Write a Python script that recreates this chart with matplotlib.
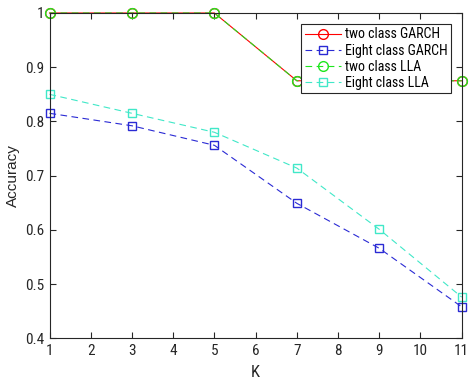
import matplotlib
matplotlib.use("Agg")
import matplotlib.pyplot as plt
from matplotlib.ticker import FuncFormatter

K = [1, 3, 5, 7, 9, 11]
two_garch = [1.0, 1.0, 1.0, 0.875, 0.875, 0.875]
eight_garch = [0.815, 0.792, 0.756, 0.649, 0.566, 0.458]
two_lla = [1.0, 1.0, 1.0, 0.875, 0.875, 0.875]
eight_lla = [0.850, 0.815, 0.780, 0.714, 0.601, 0.476]
labels = ["two class GARCH", "Eight class GARCH", "two class LLA", "Eight class LLA"]

plt.rcParams['font.family'] = ['Roboto Condensed', 'DejaVu Sans']
fig = plt.figure(figsize=(4.74, 3.82), dpi=100)
ax = fig.add_axes([49.5/474, 1-338.3/382, (461.7-49.5)/474, (338.3-13)/382])

ms = 7
kw = dict(lw=0.8, mfc='none', mew=1.0, clip_on=False)
ax.plot(K, two_garch, '-o', color='#ff0000', ms=ms, label=labels[0], **kw)
ax.plot(K, eight_garch, '--s', color='#2a2ad4', ms=ms-1, label=labels[1], dashes=(6, 4), **kw)
ax.plot(K, two_lla, '--o', color='#1ee61e', ms=ms, label=labels[2], dashes=(6, 4), **kw)
ax.plot(K, eight_lla, '--s', color='#40e8c8', ms=ms-1, label=labels[3], dashes=(6, 4), **kw)

ax.set_xlim(1, 11)
ax.set_ylim(0.4, 1.0)
ax.set_xticks(range(1, 12))
ax.set_yticks([0.4, 0.5, 0.6, 0.7, 0.8, 0.9, 1.0])
ax.yaxis.set_major_formatter(FuncFormatter(lambda v, p: ('%g' % round(v, 2))))
ax.tick_params(direction='in', length=4, width=0.8, colors='#262626', labelsize=11,
               top=True, right=True, labelcolor='#262626', pad=4)
for s in ax.spines.values():
    s.set_color('#262626')
    s.set_linewidth(0.8)
ax.set_xlabel('K', fontsize=12, color='#262626')
ax.set_ylabel('Accuracy', fontsize=11, color='#262626', family='Liberation Sans')
ax.xaxis.set_label_coords(0.5, -0.082)
ax.yaxis.set_label_coords(-0.0716, 0.499)

leg = ax.legend(loc='upper right', bbox_to_anchor=(451/474, 1-24/382), bbox_transform=fig.transFigure,
                fontsize=10, fancybox=False, framealpha=1, edgecolor='#262626',
                handlelength=2.6, handletextpad=0.3, borderpad=0.25, labelspacing=0.15, borderaxespad=0)
leg.get_frame().set_linewidth(0.8)
leg.set_zorder(5)

fig.savefig('out.png', dpi=100)
